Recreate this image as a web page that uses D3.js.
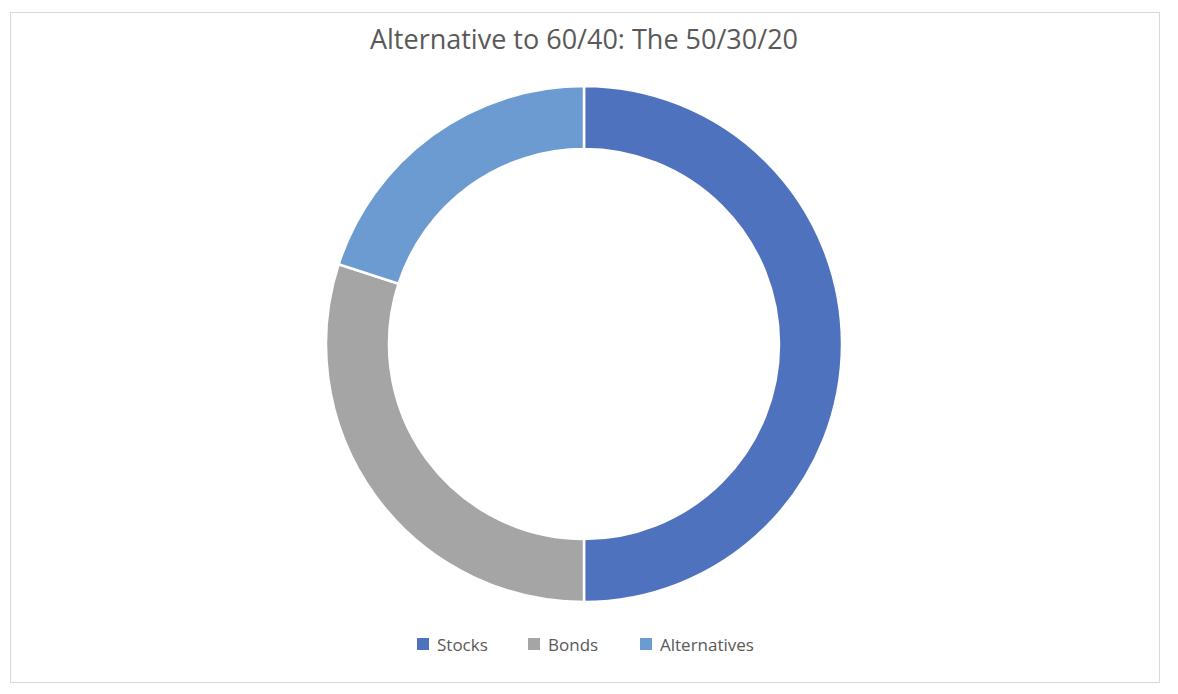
<!DOCTYPE html>
<html><head><meta charset="utf-8">
<script src="https://cdn.jsdelivr.net/npm/d3@7"></script>
<style>body{margin:0;background:#fff;}</style>
</head><body>
<script>
var categories = ["Stocks", "Bonds", "Alternatives"];
var values = [50, 30, 20];
var colors = ["#4e72be", "#a5a5a5", "#6b9bd1"];

var svg = d3.select("body").append("svg").attr("width", 1178).attr("height", 694);
svg.append("rect").attr("x", 10.5).attr("y", 12.5).attr("width", 1149).attr("height", 670)
  .attr("fill", "#fff").attr("stroke", "#d9d9d9");

svg.append("text").attr("x", 584).attr("y", 49).attr("text-anchor", "middle")
  .attr("font-family", "Open Sans, sans-serif").attr("font-size", 27).attr("fill", "#595959")
  .text("Alternative to 60/40: The 50/30/20");

var pie = d3.pie().sort(null)(values);
var arc = d3.arc().innerRadius(195).outerRadius(258);
var g = svg.append("g").attr("transform", "translate(584,344)");
g.selectAll("path").data(pie).enter().append("path")
  .attr("d", arc).attr("fill", (d, i) => colors[i])
  .attr("stroke", "#fff").attr("stroke-width", 2.5);

var legendX = [417, 528, 640];
var lg = svg.append("g");
categories.forEach(function(c, i) {
  lg.append("rect").attr("x", legendX[i]).attr("y", 638).attr("width", 12).attr("height", 12).attr("fill", colors[i]);
  lg.append("text").attr("x", legendX[i] + 20).attr("y", 651)
    .attr("font-family", "Open Sans, sans-serif").attr("font-size", 17).attr("fill", "#595959").text(c);
});
</script>
</body></html>
